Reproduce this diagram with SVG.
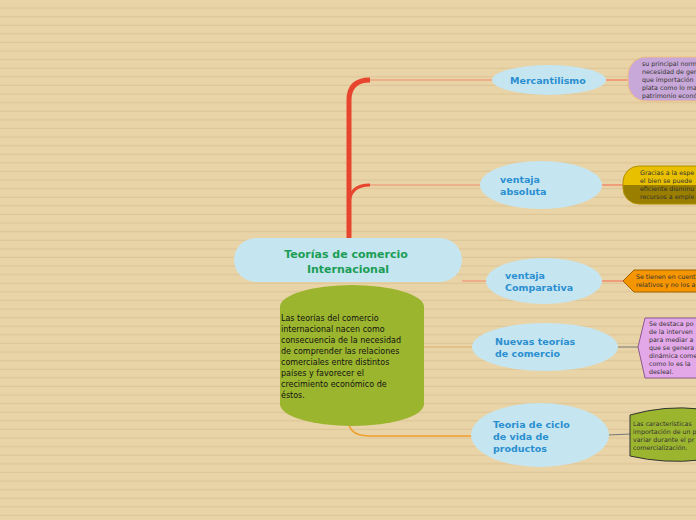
<svg xmlns="http://www.w3.org/2000/svg" width="696" height="520" viewBox="0 0 696 520">
<defs>
<pattern id="bg" width="10" height="8.6" patternUnits="userSpaceOnUse"><rect width="10" height="8.6" fill="#e9d4a7"/><line x1="0" y1="8" x2="10" y2="8" stroke="#dcc596" stroke-width="1"/></pattern>
<linearGradient id="yel" x1="0" y1="0" x2="0" y2="1"><stop offset="0.5" stop-color="#e8c000"/><stop offset="0.5" stop-color="#9a7e00"/></linearGradient>
</defs>
<style>
.el{fill:#c5e5f0}
.bt{font-family:"DejaVu Sans",Verdana,sans-serif;font-size:9.5px;font-weight:bold;fill:#2a8fd0}
.st{font-family:"DejaVu Sans",Verdana,sans-serif;font-size:6.3px;fill:#333}
.c{fill:none}
</style>
<rect width="696" height="520" fill="url(#bg)"/>
<g id="connectors" class="c">
<path d="M349,240 L349,100 Q349,80 370,80" stroke="#e8452e" stroke-width="5"/>
<path d="M349,205 Q349,185 370,185" stroke="#e8452e" stroke-width="3"/>
<path d="M370,80 L493,80" stroke="#ef8a6a" stroke-width="1"/>
<path d="M370,185 L481,185" stroke="#ef8a6a" stroke-width="1"/>
<path d="M462,281 L487,281" stroke="#ef8a6a" stroke-width="1"/>
<path d="M424,347 L473,347" stroke="#d9b070" stroke-width="1"/>
<path d="M349,425 Q352,436 370,436 L472,436" stroke="#f0a030" stroke-width="1.5"/>
<path d="M606,80 L628,80" stroke="#ef8a6a" stroke-width="1.5"/>
<path d="M602,185 L623,185" stroke="#ef8a6a" stroke-width="1.5"/>
<path d="M602,281 L623,281" stroke="#ef8a6a" stroke-width="1.5"/>
<path d="M617,347 L638,347" stroke="#777" stroke-width="1"/>
<path d="M608,435 L630,434" stroke="#777" stroke-width="1"/>
</g>
<g id="root">
<rect x="234" y="238" width="228" height="44" rx="22" fill="#c5e5f0"/>
<text x="346" y="258" text-anchor="middle" font-family="DejaVu Sans,Verdana,sans-serif" font-size="11" font-weight="bold" fill="#1a9e55">Teorías de comercio</text>
<text x="348" y="273" text-anchor="middle" font-family="DejaVu Sans,Verdana,sans-serif" font-size="11" font-weight="bold" fill="#1a9e55">Internacional</text>
</g>
<g id="desc">
<path d="M280,307 A72,22 0 0 1 424,307 L424,404 A72,22 0 0 1 280,404 Z" fill="#9cb52f"/>
<text font-family="DejaVu Sans,Verdana,sans-serif" font-size="8" fill="#111"><tspan x="281" y="321">Las teorías del comercio</tspan><tspan x="281" y="332">internacional nacen como</tspan><tspan x="281" y="343">consecuencia de la necesidad</tspan><tspan x="281" y="354">de comprender las relaciones</tspan><tspan x="281" y="365">comerciales entre distintos</tspan><tspan x="281" y="376">países y favorecer el</tspan><tspan x="281" y="387">crecimiento económico de</tspan><tspan x="281" y="398">éstos.</tspan></text>
</g>
<g id="n1"><ellipse class="el" cx="549" cy="80" rx="57" ry="15"/><text class="bt" x="510" y="84">Mercantilismo</text></g>
<g id="n2"><ellipse class="el" cx="541" cy="185" rx="61" ry="24"/><text class="bt" x="500" y="183">ventaja</text><text class="bt" x="500" y="195">absoluta</text></g>
<g id="n3"><ellipse class="el" cx="544" cy="281" rx="58" ry="23"/><text class="bt" x="505" y="279">ventaja</text><text class="bt" x="505" y="291">Comparativa</text></g>
<g id="n4"><ellipse class="el" cx="545" cy="347" rx="73" ry="24"/><text class="bt" x="495" y="345">Nuevas teorías</text><text class="bt" x="495" y="357">de comercio</text></g>
<g id="n5"><ellipse class="el" cx="540" cy="435" rx="69" ry="32"/><text class="bt" x="493" y="428">Teoria de ciclo</text><text class="bt" x="493" y="440">de vida de</text><text class="bt" x="493" y="452">productos</text></g>
<g id="d1"><rect x="628" y="57" width="100" height="44" rx="18" fill="#c8a8d8" stroke="#f0c080"/><text class="st"><tspan x="642" y="66">su principal norma</tspan><tspan x="642" y="74">necesidad de gen</tspan><tspan x="642" y="82">que importación</tspan><tspan x="642" y="90">plata como lo ma</tspan><tspan x="642" y="98">patrimonio econó</tspan></text></g>
<g id="d2"><rect x="623" y="166" width="100" height="38" rx="16" fill="url(#yel)" stroke="#b09000"/><text class="st" fill="#222"><tspan x="640" y="175">Gracias a la espe</tspan><tspan x="640" y="183">el bien se puede</tspan><tspan x="640" y="191">eficiente disminu</tspan><tspan x="640" y="199">recursos a emple</tspan></text></g>
<g id="d3"><path d="M623,281 L634,270 L700,270 L700,292 L634,292 Z" fill="#f59500" stroke="#a06000"/><text class="st"><tspan x="636" y="279">Se tienen en cuent</tspan><tspan x="636" y="287">relativos y no los a</tspan></text></g>
<g id="d4"><path d="M638,347 L645,318 L700,318 L700,378 L645,378 Z" fill="#e3a8e8" stroke="#8a5a90"/><text class="st" fill="#552266"><tspan x="649" y="326">Se destaca po</tspan><tspan x="649" y="334">de la interven</tspan><tspan x="649" y="342">para mediar a</tspan><tspan x="649" y="350">que se genera</tspan><tspan x="649" y="358">dinámica come</tspan><tspan x="649" y="366">como lo es la</tspan><tspan x="649" y="374">desleal.</tspan></text></g>
<g id="d5"><path d="M630,415 Q665,405 700,409 L700,460 Q665,464 630,456 Z" fill="#9cb52f" stroke="#333"/><text class="st" fill="#111"><tspan x="633" y="426">Las características</tspan><tspan x="633" y="434">importación de un p</tspan><tspan x="633" y="442">variar durante el pr</tspan><tspan x="633" y="450">comercialización.</tspan></text></g>
</svg>
